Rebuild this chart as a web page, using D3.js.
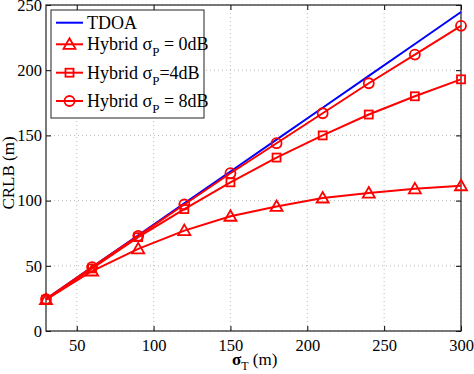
<!DOCTYPE html>
<html>
<head>
<meta charset="utf-8">
<script src="https://cdn.jsdelivr.net/npm/d3@7"></script>
<style>
  body { margin: 0; background: #fff; }
  text { font-family: "Liberation Serif", "Times New Roman", serif; fill: #000; }
</style>
</head>
<body>
<div id="chart"></div>
<script>
// data
var sigmaT = [30, 60, 90, 120, 150, 180, 210, 240, 270, 300];
var tdoa   = [24.5, 49, 73.4, 97.9, 122.3, 146.8, 171.2, 195.7, 220.1, 244.6];
var hyb0   = [24, 46, 63, 77, 88, 95.5, 102, 105.8, 109, 111.4];
var hyb4   = [24, 48, 72, 93.5, 114, 133, 150, 166, 180, 193];
var hyb8   = [24.5, 49, 73, 97, 121, 144, 167, 190, 212, 234];
var xTicks = [50, 100, 150, 200, 250, 300];
var yTicks = [0, 50, 100, 150, 200, 250];

var outerWidth = 474,
    outerHeight = 374,
    margin = {top: 5, right: 13, bottom: 43, left: 46},
    width = outerWidth - margin.left - margin.right,
    height = outerHeight - margin.top - margin.bottom;

var svg = d3.select("#chart").append("svg")
    .attr("width", outerWidth)
    .attr("height", outerHeight)
  .append("g")
    .attr("transform", "translate(" + margin.left + "," + margin.top + ")");

var x = d3.scaleLinear().domain([30, 300]).range([0, width]);
var y = d3.scaleLinear().domain([0, 250]).range([height, 0]);

// dotted grid
svg.append("g").selectAll("line").data(xTicks).enter().append("line")
    .attr("x1", function(d) { return x(d); }).attr("x2", function(d) { return x(d); })
    .attr("y1", 0).attr("y2", height)
    .attr("stroke", "#bbb").attr("stroke-width", 1).attr("stroke-dasharray", "1,3");
svg.append("g").selectAll("line").data(yTicks).enter().append("line")
    .attr("y1", function(d) { return y(d); }).attr("y2", function(d) { return y(d); })
    .attr("x1", 0).attr("x2", width)
    .attr("stroke", "#bbb").attr("stroke-width", 1).attr("stroke-dasharray", "1,3");

// axes, ticks pointing in
var xAxis = svg.append("g")
    .attr("transform", "translate(0," + height + ")")
    .call(d3.axisBottom(x).tickValues(xTicks).tickSizeInner(-5).tickSizeOuter(0).tickPadding(8));
var xAxisTop = svg.append("g")
    .call(d3.axisTop(x).tickValues(xTicks).tickSizeInner(-5).tickSizeOuter(0).tickFormat(""));
var yAxis = svg.append("g")
    .call(d3.axisLeft(y).tickValues(yTicks).tickSizeInner(-5).tickSizeOuter(0).tickPadding(4));
var yAxisRight = svg.append("g")
    .attr("transform", "translate(" + width + ",0)")
    .call(d3.axisRight(y).tickValues(yTicks).tickSizeInner(-5).tickSizeOuter(0).tickFormat(""));

[xAxis, xAxisTop, yAxis, yAxisRight].forEach(function(a) {
  a.select(".domain").remove();
  a.selectAll("line").attr("stroke", "#000");
  a.selectAll("text").style("font-family", "Liberation Serif, serif").style("font-size", "16.5px");
});

svg.append("rect")
    .attr("width", width).attr("height", height)
    .attr("fill", "none").attr("stroke", "#222").attr("stroke-width", 1.2);

// series
var line = d3.line()
    .x(function(d, i) { return x(sigmaT[i]); })
    .y(function(d) { return y(d); });

function drawMarker(g, type, cx, cy) {
  if (type === "triangle") {
    g.append("path")
      .attr("d", "M" + cx + "," + (cy - 6) + "L" + (cx + 6) + "," + (cy + 4.5) + "L" + (cx - 6) + "," + (cy + 4.5) + "Z")
      .attr("fill", "none").attr("stroke", "#f00").attr("stroke-width", 1.8);
  } else if (type === "square") {
    g.append("rect")
      .attr("x", cx - 4).attr("y", cy - 4).attr("width", 8).attr("height", 8)
      .attr("fill", "none").attr("stroke", "#f00").attr("stroke-width", 1.8);
  } else if (type === "circle") {
    g.append("circle")
      .attr("cx", cx).attr("cy", cy).attr("r", 5)
      .attr("fill", "none").attr("stroke", "#f00").attr("stroke-width", 1.8);
  }
}

var series = [
  {values: tdoa, color: "#00f", marker: null},
  {values: hyb0, color: "#f00", marker: "triangle"},
  {values: hyb4, color: "#f00", marker: "square"},
  {values: hyb8, color: "#f00", marker: "circle"}
];

series.forEach(function(s) {
  svg.append("path")
    .datum(s.values)
    .attr("d", line)
    .attr("fill", "none")
    .attr("stroke", s.color)
    .attr("stroke-width", 2);
  if (s.marker) {
    var g = svg.append("g");
    s.values.forEach(function(v, i) { drawMarker(g, s.marker, x(sigmaT[i]), y(v)); });
  }
});

// legend
var legend = svg.append("g").attr("transform", "translate(5,5)");
legend.append("rect")
    .attr("width", 153).attr("height", 108)
    .attr("fill", "#fff").attr("stroke", "#222").attr("stroke-width", 1);

var legendRows = [
  {label: "TDOA", sub: null, rest: null},
  {label: "Hybrid σ", sub: "P", rest: " = 0dB"},
  {label: "Hybrid σ", sub: "P", rest: "=4dB"},
  {label: "Hybrid σ", sub: "P", rest: " = 8dB"}
];
var rowY = [12.7, 34.3, 62.7, 91];

legendRows.forEach(function(r, i) {
  var yy = rowY[i];
  var s = series[i];
  legend.append("line")
    .attr("x1", 5).attr("x2", 32).attr("y1", yy).attr("y2", yy)
    .attr("stroke", s.color).attr("stroke-width", 2);
  if (s.marker) drawMarker(legend, s.marker, 18.5, yy);
  var t = legend.append("text")
    .attr("x", 36).attr("y", yy + 6)
    .style("font-size", "18px");
  t.append("tspan").text(r.label);
  if (r.sub) {
    t.append("tspan").attr("dy", 6).style("font-size", "13px").text(r.sub);
    t.append("tspan").attr("dy", -6).text(r.rest);
  }
});

// axis labels
var xl = svg.append("text")
    .attr("x", 186).attr("y", height + 34)
    .style("font-size", "17px");
xl.append("tspan").style("font-weight", "bold").text("σ");
xl.append("tspan").attr("dy", 5).style("font-size", "12px").text("T");
xl.append("tspan").attr("dy", -5).text(" (m)");

svg.append("text")
    .attr("transform", "translate(-32," + (y(125) + 5) + ") rotate(-90)")
    .attr("text-anchor", "middle")
    .style("font-size", "17px")
    .text("CRLB (m)");
</script>
</body>
</html>
